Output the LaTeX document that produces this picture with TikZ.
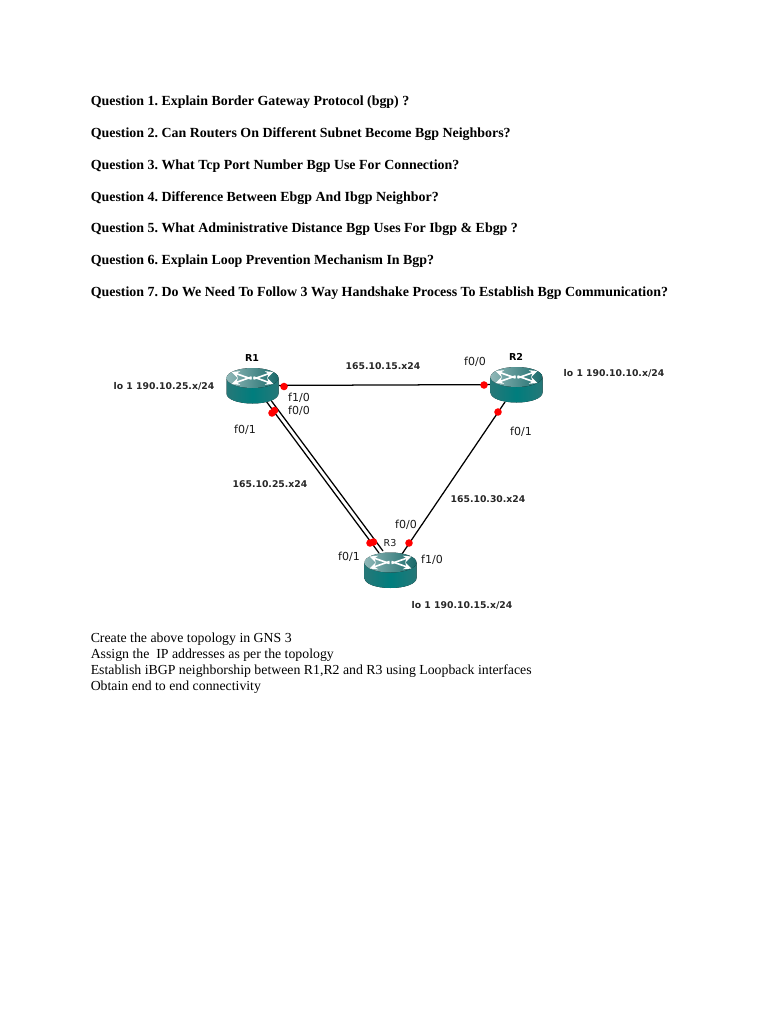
\documentclass[tikz,border=0pt]{standalone}
\usepackage{fontspec}
\setmainfont{Liberation Serif}
\newfontfamily\gnsfont{DejaVu Sans}
\usetikzlibrary{arrows.meta, positioning}
\frenchspacing

\begin{document}
\begin{tikzpicture}[
      x = 0.796875pt, y = -0.796875pt,
      ques/.style   = {anchor = base west, inner sep = 0pt, font = \fontsize{11.1}{13}\selectfont\bfseries},
      task/.style   = {anchor = base west, inner sep = 0pt, font = \fontsize{11}{13}\selectfont},
      tag/.style    = {inner sep = 0pt, text = black!85, font = \gnsfont\fontsize{7.4}{8}\selectfont\bfseries},
      port/.style   = {inner sep = 0pt, text = black!90, font = \gnsfont\fontsize{8.8}{10}\selectfont},
      rname/.style  = {inner sep = 0pt, font = \gnsfont\fontsize{7.6}{8}\selectfont\bfseries},
      rthin/.style  = {inner sep = 0pt, text = black!90, font = \gnsfont\fontsize{7.6}{8}\selectfont},
      router/.style = {inner sep = 0pt, minimum width = 41.5pt, minimum height = 28pt},
      dot/.style    = {circle, fill = red, inner sep = 0pt, minimum size = 6pt},
      link/.style   = {draw = black, line width = 1pt},
      routerbody/.pic = {
        \fill[left color = teal!75!black!85, right color = teal!75!black!85, middle color = teal!60!cyan!70!black]
          (-26,-7) -- (-26,8) .. controls (-26,14) and (-14,18) .. (0,18)
          .. controls (14,18) and (26,14) .. (26,8) -- (26,-7) -- cycle;
        \fill[left color = black!10!cyan!25!gray!70, right color = teal!70!black!90]
          (0,-7.5) ellipse [x radius = 26, y radius = 10];
        \foreach \sx/\sy in {1/-1, -1/-1, 1/1, -1/1}
          \draw[white, line width = 1.3pt, -{Stealth[length = 2.2mm, width = 2mm]}]
            (\sx*1,-7.5-\sy*1) -- (\sx*21,-7.5+\sy*6);
      }
    ]
  \useasboundingbox (0,0) rectangle (768,1024);

  % questions ---------------------------------------------------------------
  \node[ques] (q1) at (90.5,105.7) {Question 1. Explain Border Gateway Protocol (bgp) ?};
  \node[ques] (q2) at (90.5,137.5) {Question 2. Can Routers On Different Subnet Become Bgp Neighbors?};
  \node[ques] (q3) at (90.5,169.3) {Question 3. What Tcp Port Number Bgp Use For Connection?};
  \node[ques] (q4) at (90.5,201) {Question 4. Difference Between Ebgp And Ibgp Neighbor?};
  \node[ques] (q5) at (90.5,232.8) {Question 5. What Administrative Distance Bgp Uses For Ibgp \& Ebgp ?};
  \node[ques] (q6) at (90.5,264.5) {Question 6. Explain Loop Prevention Mechanism In Bgp?};
  \node[ques] (q7) at (90.5,296) {Question 7. Do We Need To Follow 3 Way Handshake Process To Establish Bgp Communication?};

  % routers -----------------------------------------------------------------
  \node[router] (r1) at (252.5,385.5) {};
  \node[router] (r2) at (516.5,384.5) {};
  \node[router] (r3) at (390.5,570) {};

  % links -------------------------------------------------------------------
  \coordinate (r1a) at (266,401);
  \coordinate (r1b) at (270,399);
  \coordinate (r3a) at (379,553);
  \coordinate (r3b) at (383,551);
  \coordinate (r2c) at (505,402);
  \coordinate (r3c) at (402,554);
  \draw[link] (r1) -- (r2);
  \draw[link] (r1a) -- (r3a);
  \draw[link] (r1b) -- (r3b);
  \draw[link] (r2c) -- (r3c);

  \pic at (r1) {routerbody};
  \pic at (r2) {routerbody};
  \pic at (r3) {routerbody};

  % interfaces --------------------------------------------------------------
  \node[dot] (d1) at (284,386.5) {};
  \node[dot] (d2) at (272,413) {};
  \node[dot] (d3) at (274.5,410.5) {};
  \node[dot] (d4) at (484,385) {};
  \node[dot] (d5) at (498,412) {};
  \node[dot] (d6) at (370,543) {};
  \node[dot] (d7) at (373.5,542) {};
  \node[dot] (d8) at (409,543) {};

  % labels ------------------------------------------------------------------
  \node[rname] (n1) at (252,358) {R1};
  \node[rname] (n2) at (516,357) {R2};
  \node[rthin] (n3) at (390,543) {R3};

  \node[tag] (lo1) at (164,386) {lo 1 190.10.25.x/24};
  \node[tag] (lo2) at (614,373) {lo 1 190.10.10.x/24};
  \node[tag] (lo3) at (462,605) {lo 1 190.10.15.x/24};

  \node[tag] (net1) at (383,366) {165.10.15.x24};
  \node[tag] (net2) at (270,484) {165.10.25.x24};
  \node[tag] (net3) at (488,499) {165.10.30.x24};

  \node[port] (p1) at (299,398) {f1/0};
  \node[port] (p2) at (299,411) {f0/0};
  \node[port] (p3) at (245,430) {f0/1};
  \node[port] (p4) at (475,362) {f0/0};
  \node[port] (p5) at (521,432) {f0/1};
  \node[port] (p6) at (406,525) {f0/0};
  \node[port] (p7) at (349,557) {f0/1};
  \node[port] (p8) at (432,560) {f1/0};

  % tasks -------------------------------------------------------------------
  \node[task] (t1) at (90.5,642) {Create the above topology in GNS 3};
  \node[task] (t2) at (90.5,658) {Assign the\ \ IP addresses as per the topology};
  \node[task] (t3) at (90.5,674.3) {Establish iBGP neighborship between R1,R2 and R3 using Loopback interfaces};
  \node[task] (t4) at (90.5,690.5) {Obtain end to end connectivity};

  \end{tikzpicture}
\end{document}
